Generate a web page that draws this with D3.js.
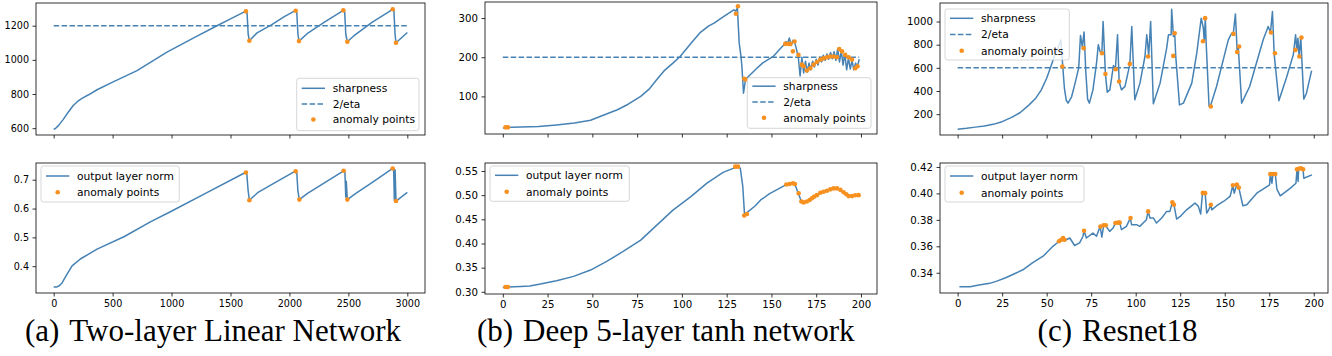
<!DOCTYPE html>
<html>
<head>
<meta charset="utf-8">
<script src="https://cdn.jsdelivr.net/npm/d3@7"></script>
<style>
  body { margin: 0; background: #fff; }
  text { font-family: "DejaVu Sans", sans-serif; fill: #000; }
  text.caption { font-family: "Liberation Serif", "Times New Roman", serif; }
</style>
</head>
<body>
<svg id="chart" width="1332" height="356"></svg>
<script>
// (a) two-layer linear network: [iteration, value]
const linSharp = [[0,594],[15,598],[40,615],[80,650],[120,690],[164,731],[200,755],[240,774],[300,797],[368,825],[500,870],[707,937],[961,1045],[1200,1133],[1385,1200],[1500,1240],[1626,1284],[1640,1280],[1650,1150],[1660,1112],[1725,1158],[1850,1206],[1960,1255],[2050,1288],[2062,1280],[2072,1150],[2081,1110],[2150,1153],[2300,1222],[2457,1290],[2468,1288],[2478,1150],[2491,1106],[2545,1140],[2700,1220],[2876,1296],[2886,1290],[2896,1150],[2904,1100],[3000,1160]];
const linSharpAnom = [[1631,1284],[1660,1112],[2053,1288],[2081,1110],[2457,1290],[2491,1106],[2876,1296],[2904,1100]];
const linNorm = [[0,0.328],[28,0.328],[50,0.333],[71,0.342],[110,0.370],[156,0.401],[226,0.425],[368,0.459],[600,0.503],[820,0.554],[990,0.589],[1300,0.655],[1626,0.725],[1638,0.722],[1650,0.66],[1660,0.629],[1730,0.655],[1900,0.695],[2050,0.730],[2062,0.726],[2072,0.66],[2084,0.631],[2150,0.652],[2300,0.69],[2460,0.731],[2470,0.730],[2478,0.64],[2482,0.695],[2491,0.631],[2560,0.652],[2700,0.690],[2876,0.739],[2884,0.738],[2890,0.628],[2896,0.735],[2904,0.626],[3000,0.656]];
const linNormAnom = [[1631,0.725],[1660,0.629],[2053,0.729],[2084,0.631],[2460,0.731],[2491,0.631],[2876,0.739],[2904,0.626]];

// (b) deep 5-layer tanh network: [epoch, value]
const tanhSharp = [[0,19],[2,20],[5,21],[10,22],[20,23],[30,27],[40,32],[49,39],[55,50],[64,66],[70,80],[77,100],[82,120],[86,143],[90,165],[95,185],[99,202],[105,235],[110,262],[115,280],[118,287],[122,300],[126,312],[129,321],[130,318],[131,325],[132,236],[133,202],[133.5,177],[134.4,108],[135.5,143],[137,150],[141,168],[145,185],[151,202],[155,222],[157,232],[158,240],[159,235],[160,249],[161,230],[162,243],[163,238],[164,220],[165,200],[166,152],[167,200],[168,160],[169,190],[170,162],[171,185],[172,168],[173,190],[174,175],[175,195],[176,180],[177,200],[178,188],[179,205],[180,192],[181,208],[182,195],[183,212],[184,196],[185,214],[186,192],[187,222],[188,188],[189,216],[190,180],[191,208],[192,168],[193,198],[194,170],[195,192],[196,168],[197,185],[198,175],[199,195]];
const tanhSharpAnom = [[1.5,21],[2.8,21],[130.2,311],[131.3,330],[134.8,145],[135.6,143],[157.7,234],[159.6,234],[160.6,234],[162,215],[162.9,240],[165.1,206],[167,181],[168,177],[169.8,166],[171.7,172],[173.5,181],[175.4,188],[177.3,194],[179.1,197],[181,200],[182.8,202],[184.7,202],[186.6,200],[187.9,221],[189.4,215],[191.2,206],[193.1,200],[195,194],[196.8,172],[198.1,177]];
const tanhNorm = [[0,0.309],[3,0.310],[10,0.311],[15,0.312],[21,0.316],[30,0.323],[39.5,0.332],[49,0.345],[58,0.363],[67,0.383],[77,0.407],[86,0.438],[95,0.469],[105,0.497],[114,0.525],[123,0.547],[129,0.556],[130,0.559],[131,0.559],[132.6,0.556],[134,0.518],[135,0.459],[136,0.462],[137,0.466],[141,0.478],[144,0.490],[149,0.503],[157,0.519],[158,0.522],[160,0.523],[162,0.5245],[163,0.523],[165,0.504],[166.7,0.487],[168,0.485],[170,0.487],[172,0.492],[174,0.497],[176,0.502],[178,0.506],[180,0.508],[182,0.511],[184,0.513],[186,0.514],[188,0.512],[190,0.507],[192,0.501],[194,0.498],[196,0.499],[198,0.500],[199,0.500]];
const tanhNormAnom = [[1.5,0.310],[2.8,0.310],[129.8,0.559],[131.3,0.559],[134.8,0.458],[136.3,0.461],[158.3,0.522],[160.1,0.523],[162,0.5245],[163.1,0.523],[165.2,0.504],[166.7,0.487],[168,0.485],[169.8,0.487],[171.3,0.490],[172.6,0.4935],[173.9,0.497],[175.4,0.500],[177.3,0.505],[179.1,0.507],[181,0.509],[182.9,0.512],[184.7,0.514],[186.6,0.514],[188.5,0.511],[190.3,0.506],[191.8,0.502],[193.1,0.498],[195,0.498],[196.8,0.4997],[198.7,0.500]];

// (c) resnet18: [epoch, value]
const resSharp = [[0,70],[5,78],[10,88],[15,98],[20,112],[25,135],[30,170],[35,212],[40,278],[44,340],[47,410],[50,510],[53,640],[55,730],[57,800],[58,840],[59,620],[60,420],[61,320],[62,295],[64,350],[66,470],[68,600],[69,880],[70,780],[71,910],[72,560],[73,330],[74,295],[76,410],[78,640],[79,800],[80,740],[81,730],[81.7,1000],[83,550],[84,390],[85.5,410],[87.5,620],[88.6,590],[89.8,885],[90.7,480],[92,410],[94,440],[96.7,630],[97.8,957],[99.5,324],[102.4,468],[105.2,698],[106.2,885],[106.7,813],[107.3,700],[108.4,1000],[109.9,290],[113.7,468],[117.4,770],[118.4,885],[119.9,885],[120.2,1107],[121.2,870],[121.9,899],[122.5,700],[124.6,280],[126.8,295],[131.5,468],[134.3,727],[136.8,1029],[138,942],[138.5,830],[139.1,1029],[139.5,842],[141.2,270],[141.9,266],[145.4,439],[152,842],[153.9,899],[154.8,893],[156,1066],[157,741],[157.6,784],[159.5,295],[164,439],[171.6,842],[174.4,957],[175.7,905],[176.8,1087],[177.8,712],[180.4,316],[184.7,516],[188.5,712],[189.8,885],[190.5,755],[191.1,856],[191.8,698],[192.7,865],[194.4,330],[195.9,381],[198.8,576]];
const resSharpAnom = [[58.8,611],[70.8,770],[81.1,726],[83,547],[88.8,588],[90.7,482],[96.7,634],[107,698],[121.1,703],[121.9,899],[137.8,830],[139,1029],[142.2,266],[154.9,893],[157,736],[158.1,784],[176,905],[178.2,726],[189.7,755],[191.9,698],[193.1,861]];
const resNorm = [[1,0.3295],[7,0.3295],[12,0.3307],[18,0.332],[22,0.3337],[27,0.3362],[31,0.3387],[37,0.3425],[42,0.3475],[48,0.3525],[53.5,0.360],[57,0.3638],[59,0.3655],[61,0.365],[63,0.3663],[65.7,0.3606],[68.5,0.3626],[70.4,0.3676],[71,0.3718],[72.3,0.3663],[76,0.370],[78,0.3676],[80,0.375],[81,0.367],[82,0.3759],[83,0.3759],[85.4,0.3713],[87.3,0.3738],[88.6,0.3776],[90,0.3779],[91,0.3779],[92,0.3726],[94.8,0.3751],[97,0.3814],[97.7,0.3764],[100.5,0.3764],[102.3,0.3751],[106,0.3801],[107,0.3864],[108,0.3814],[110,0.3814],[111.7,0.3776],[114.6,0.3814],[117.4,0.3864],[119.2,0.3864],[120.6,0.3932],[121.5,0.3914],[123,0.3806],[125,0.3826],[128.6,0.3876],[133.3,0.3927],[135.2,0.3902],[136.5,0.3844],[137.5,0.4004],[139,0.4002],[139.9,0.3851],[141,0.3876],[142.2,0.3914],[142.7,0.3876],[145.5,0.3907],[149.3,0.3939],[153,0.3977],[154.6,0.4062],[155.3,0.4002],[156.8,0.4067],[157.9,0.4044],[160.2,0.3907],[162.4,0.3914],[168,0.4002],[173.7,0.4052],[175.2,0.4065],[175.6,0.4152],[176.5,0.4077],[177.1,0.4147],[178.4,0.4147],[179.3,0.4032],[181.2,0.3982],[186.9,0.404],[190,0.4077],[190.6,0.4182],[191.2,0.409],[191.5,0.4187],[192.8,0.419],[194,0.4182],[194.4,0.4115],[199,0.414]];
const resNormAnom = [[56.9,0.3638],[58.2,0.365],[59.2,0.3663],[60.1,0.365],[71,0.3718],[80.2,0.375],[82,0.3759],[83.2,0.3759],[88.6,0.3776],[90,0.3779],[91,0.3779],[97.1,0.3814],[107,0.3864],[120.6,0.3932],[121.5,0.3914],[137.7,0.4004],[139,0.4002],[142.2,0.3914],[154.6,0.4062],[156.8,0.4067],[157.9,0.4044],[175.6,0.4147],[177.1,0.4147],[178.4,0.4147],[190.6,0.4182],[191.5,0.4187],[192.8,0.419],[194,0.4182]];

// tick labels and threshold
const linXTicks = [0, 500, 1000, 1500, 2000, 2500, 3000];
const epochTicks = [0, 25, 50, 75, 100, 125, 150, 175, 200];
const linSharpTicks = [600, 800, 1000, 1200];
const linNormTicks = [0.4, 0.5, 0.6, 0.7];
const tanhSharpTicks = [100, 200, 300];
const tanhNormTicks = [0.30, 0.35, 0.40, 0.45, 0.50, 0.55];
const resSharpTicks = [200, 400, 600, 800, 1000];
const resNormTicks = [0.34, 0.36, 0.38, 0.40, 0.42];
const linEta = 1200, tanhEta = 200, resEta = 600;
const captions = [["(a)", "Two-layer Linear Network"], ["(b)", "Deep 5-layer tanh network"], ["(c)", "Resnet18"]];

const svg = d3.select("#chart");
const blue = "#4682b4", orange = "#f7901e";

function panel(o) {
  const x = d3.scaleLinear().domain(o.xDomain).range([o.left, o.right]);
  const y = d3.scaleLinear().domain(o.yDomain).range([o.bottom, o.top]);
  const g = svg.append("g");

  const xAxis = d3.axisBottom(x).tickValues(o.xTicks).tickSize(3.5).tickPadding(3.5)
    .tickFormat(o.xLabels ? d3.format("d") : "");
  g.append("g").attr("transform", `translate(0,${o.bottom})`).call(xAxis)
    .call(s => s.select(".domain").remove())
    .call(s => s.selectAll("text").attr("font-size", o.fs).attr("font-family", "DejaVu Sans").attr("fill", "#000"));

  const yAxis = d3.axisLeft(y).tickValues(o.yTicks).tickSize(3.5).tickPadding(3.5).tickFormat(o.yFmt);
  g.append("g").attr("transform", `translate(${o.left},0)`).call(yAxis)
    .call(s => s.select(".domain").remove())
    .call(s => s.selectAll("text").attr("font-size", o.fs).attr("font-family", "DejaVu Sans").attr("fill", "#000"));
  g.selectAll(".tick line").attr("stroke", "#000").attr("stroke-width", 0.8);

  const line = d3.line().x(d => x(d[0])).y(d => y(d[1]));
  g.append("path").datum(o.line).attr("d", line)
    .attr("fill", "none").attr("stroke", blue).attr("stroke-width", 1.5).attr("stroke-linejoin", "round");

  if (o.eta != null) {
    g.append("line")
      .attr("x1", x(o.etaRange[0])).attr("x2", x(o.etaRange[1]))
      .attr("y1", y(o.eta)).attr("y2", y(o.eta))
      .attr("stroke", blue).attr("stroke-width", 1.5).attr("stroke-dasharray", "5.5,2.4");
  }

  g.selectAll(".pt").data(o.points).enter().append("circle")
    .attr("cx", d => x(d[0])).attr("cy", d => y(d[1])).attr("r", 2.3).attr("fill", orange);

  g.append("rect").attr("x", o.left).attr("y", o.top)
    .attr("width", o.right - o.left).attr("height", o.bottom - o.top)
    .attr("fill", "none").attr("stroke", "#000").attr("stroke-width", 0.8);

  // legend
  const L = o.legend;
  const lg = g.append("g").attr("transform", `translate(${L.x},${L.y})`);
  lg.append("rect").attr("width", L.w).attr("height", L.h).attr("rx", 2.5)
    .attr("fill", "#fff").attr("fill-opacity", 0.8).attr("stroke", "#ccc").attr("stroke-width", 0.8);
  L.rows.forEach((r, i) => {
    const cy = L.first + i * L.step;
    if (r.kind === "line" || r.kind === "dash") {
      lg.append("line").attr("x1", 5).attr("x2", 28.3).attr("y1", cy).attr("y2", cy)
        .attr("stroke", blue).attr("stroke-width", 1.5)
        .attr("stroke-dasharray", r.kind === "dash" ? "5.5,2.4" : null);
    } else {
      lg.append("circle").attr("cx", 16.7).attr("cy", cy).attr("r", 2.3).attr("fill", orange);
    }
    lg.append("text").attr("x", 36).attr("y", cy + 3.8).attr("font-size", 10.7).text(r.label);
  });
}

const topLeg = [{kind: "line", label: "sharpness"}, {kind: "dash", label: "2/eta"}, {kind: "dot", label: "anomaly points"}];
const botLeg = [{kind: "line", label: "output layer norm"}, {kind: "dot", label: "anomaly points"}];

// (a)
panel({left: 36, right: 425, top: 3, bottom: 135, xDomain: [-150, 3150], yDomain: [560, 1333],
  xTicks: linXTicks, xLabels: false, yTicks: linSharpTicks, yFmt: d3.format("d"), fs: 9.6,
  line: linSharp, points: linSharpAnom, eta: linEta, etaRange: [0, 3000],
  legend: {x: 296.7, y: 78.3, w: 122.3, h: 52.4, first: 10, step: 15.6, rows: topLeg}});
panel({left: 36, right: 425, top: 163, bottom: 293, xDomain: [-150, 3150], yDomain: [0.307, 0.758],
  xTicks: linXTicks, xLabels: true, yTicks: linNormTicks, yFmt: d3.format(".1f"), fs: 9.6,
  line: linNorm, points: linNormAnom, eta: null,
  legend: {x: 41, y: 166, w: 138.3, h: 36, first: 10, step: 16.3, rows: botLeg}});

// (b)
panel({left: 485, right: 877, top: 2, bottom: 134, xDomain: [-9.95, 208.95], yDomain: [4, 341],
  xTicks: epochTicks, xLabels: false, yTicks: tanhSharpTicks, yFmt: d3.format("d"), fs: 10.2,
  line: tanhSharp, points: tanhSharpAnom, eta: tanhEta, etaRange: [0, 199],
  legend: {x: 747.3, y: 77.7, w: 123.7, h: 50.6, first: 8.5, step: 15.8, rows: topLeg}});
panel({left: 485, right: 877, top: 163, bottom: 294, xDomain: [-9.95, 208.95], yDomain: [0.2955, 0.5665],
  xTicks: epochTicks, xLabels: true, yTicks: tanhNormTicks, yFmt: d3.format(".2f"), fs: 10.2,
  line: tanhNorm, points: tanhNormAnom, eta: null,
  legend: {x: 490, y: 166, w: 139.3, h: 35.3, first: 9.3, step: 16.4, rows: botLeg}});

// (c)
panel({left: 940, right: 1328, top: 3, bottom: 135, xDomain: [-9.9, 208], yDomain: [20, 1160],
  xTicks: epochTicks, xLabels: false, yTicks: resSharpTicks, yFmt: d3.format("d"), fs: 10.2,
  line: resSharp, points: resSharpAnom, eta: resEta, etaRange: [0, 199],
  legend: {x: 945, y: 9, w: 124.3, h: 51, first: 9.3, step: 16.2, rows: topLeg}});
panel({left: 940, right: 1328, top: 163, bottom: 293, xDomain: [-9.9, 208], yDomain: [0.3247, 0.423],
  xTicks: epochTicks, xLabels: true, yTicks: resNormTicks, yFmt: d3.format(".2f"), fs: 10.2,
  line: resNorm, points: resNormAnom, eta: null,
  legend: {x: 945, y: 166, w: 139, h: 36, first: 10, step: 16.7, rows: botLeg}});

// sub-captions, centred under each column
const capX = [213, 665.7, 1117.5];
captions.forEach((c, i) => {
  const t = svg.append("text").attr("class", "caption")
    .attr("font-family", "Liberation Serif, Times New Roman, serif")
    .attr("x", capX[i]).attr("y", 341).attr("text-anchor", "middle")
    .attr("font-size", 31);
  t.append("tspan").text(c[0]);
  t.append("tspan").attr("dx", 10).text(c[1]);
});
</script>
</body>
</html>
